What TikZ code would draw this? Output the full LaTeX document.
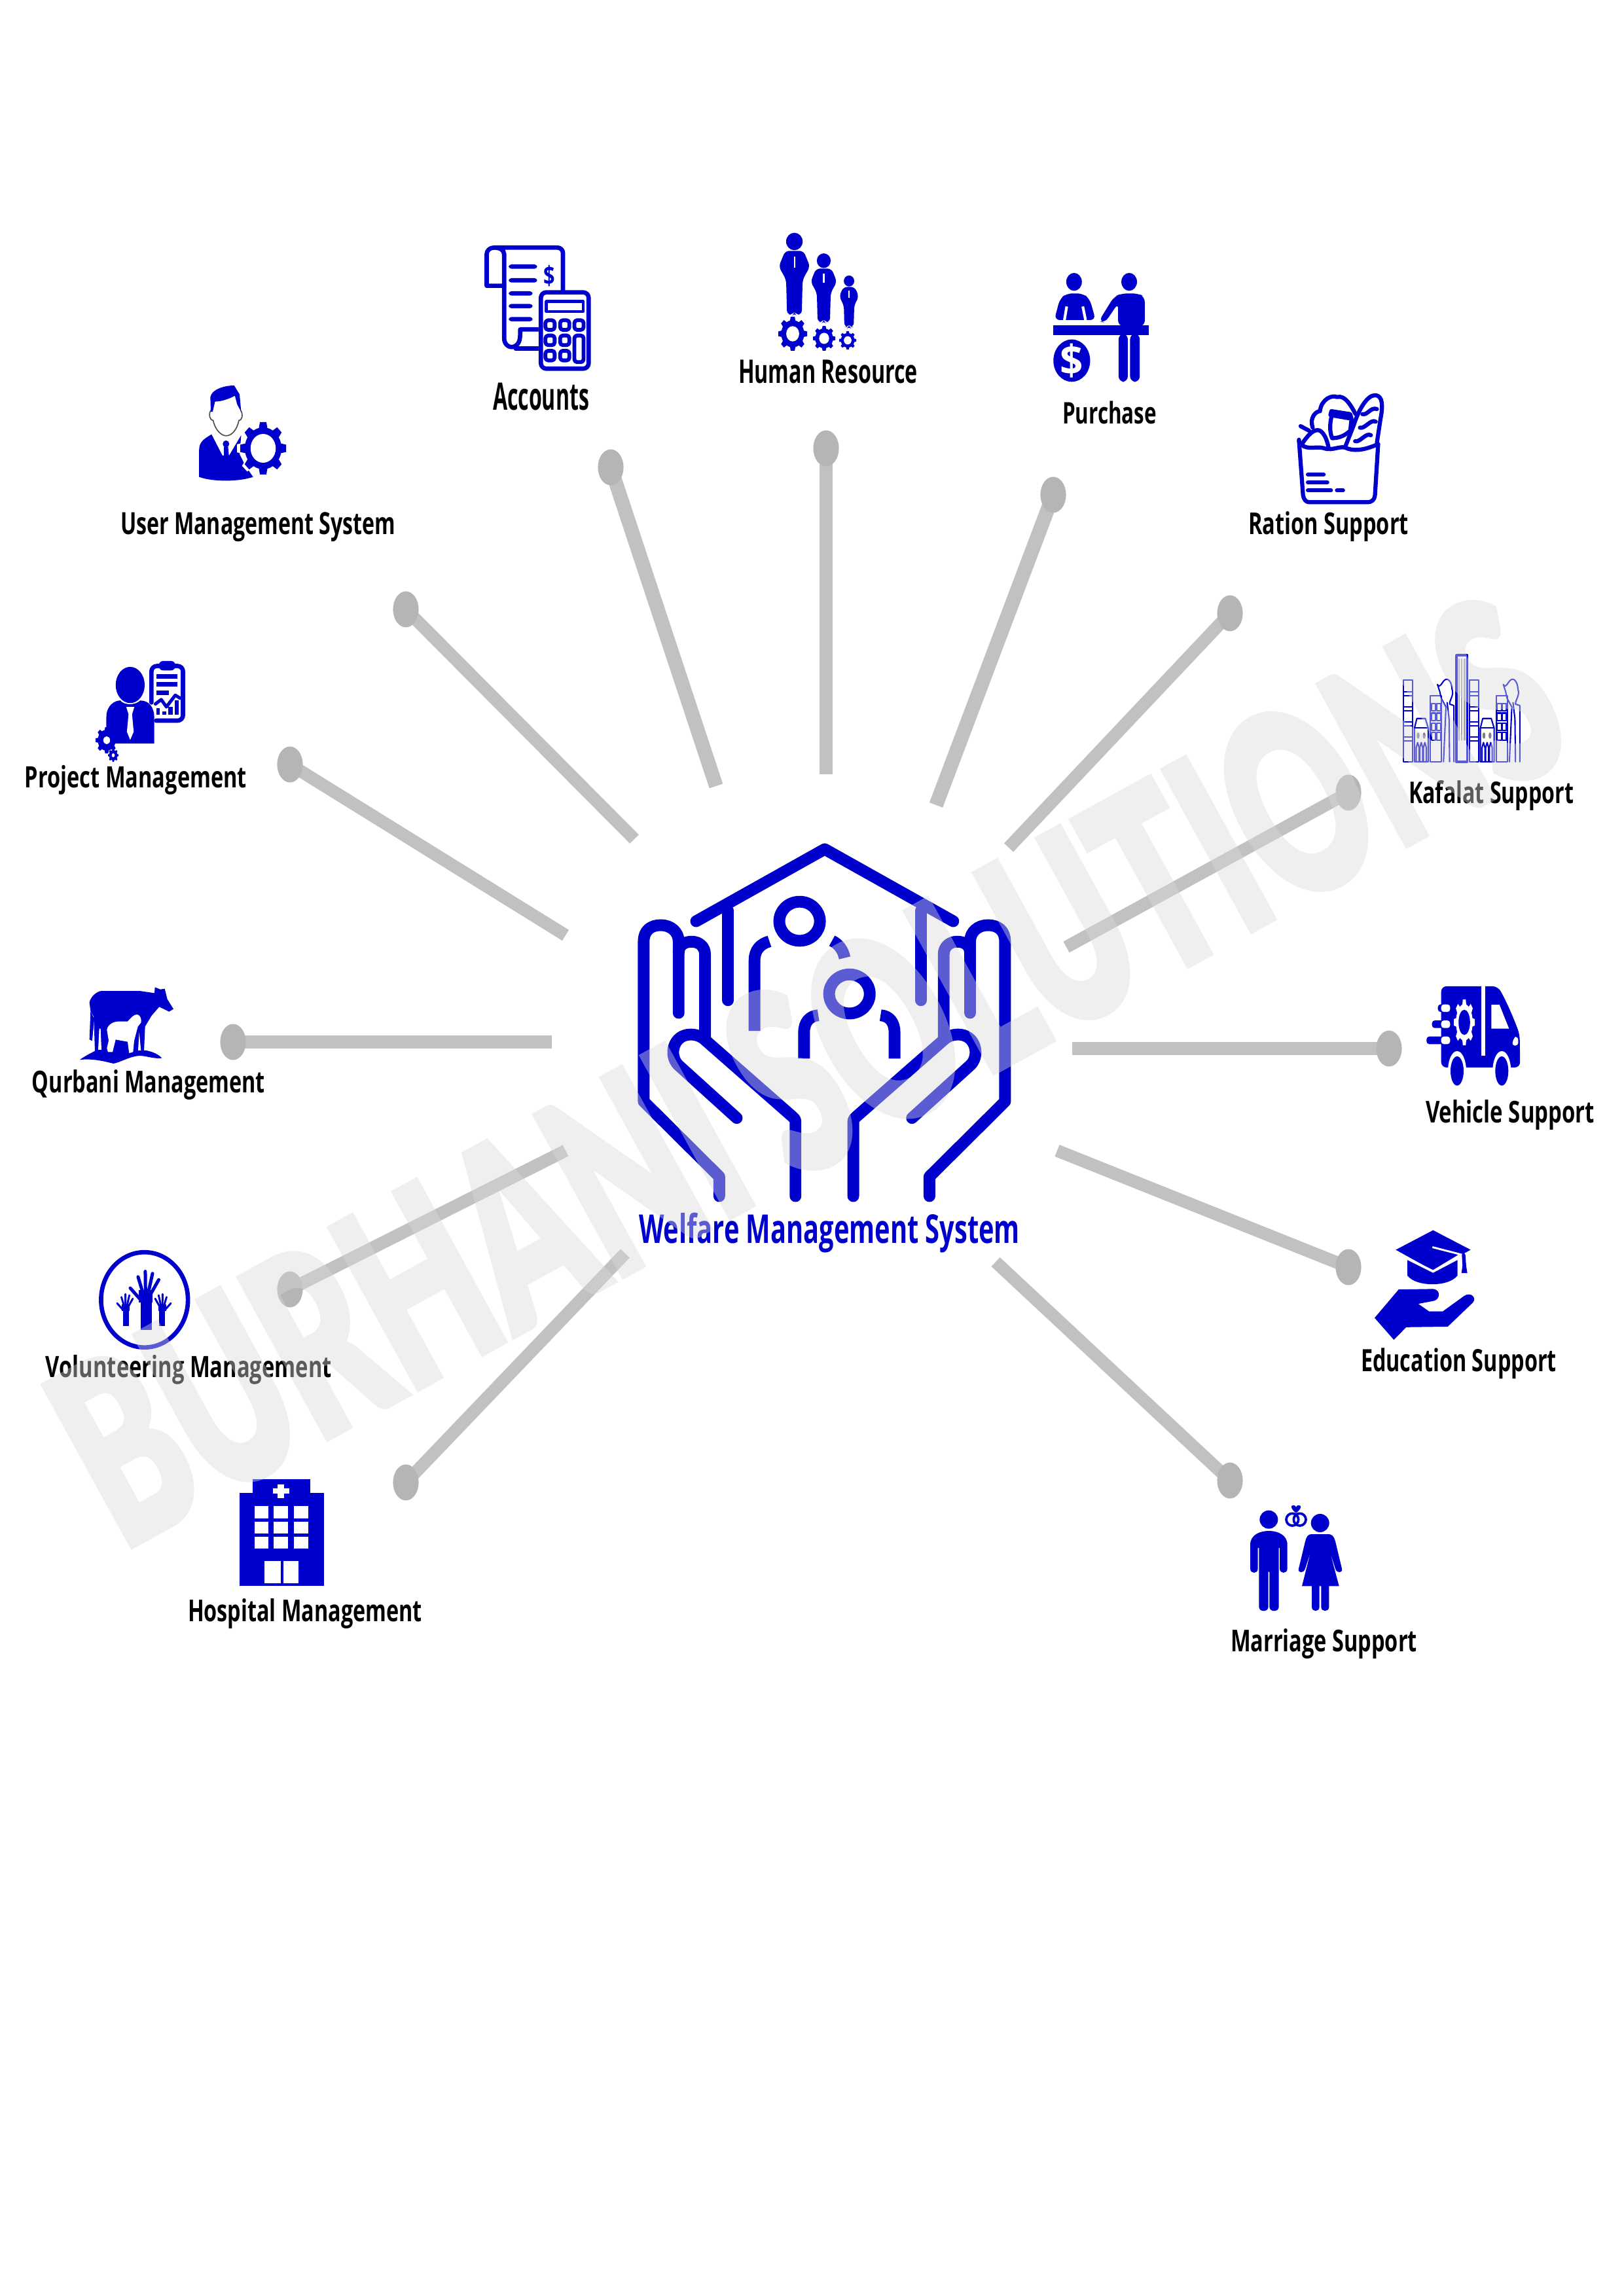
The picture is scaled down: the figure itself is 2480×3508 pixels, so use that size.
\documentclass[tikz,border=0pt]{standalone}
\usepackage{fontspec}
\usepackage{graphicx}
\usetikzlibrary{shapes.geometric}
\setmainfont{Open Sans}
\newfontfamily\wmfont[FakeBold=2.2]{Lato Black}
\definecolor{iconblue}{HTML}{0000CC}
\definecolor{spokegrey}{HTML}{C1C1C1}
\definecolor{dotgrey}{HTML}{B5B5B5}
\definecolor{wmgrey}{HTML}{DBDBDB}
\tikzset{
  zm/.style n args={4}{shift={(#1,#2)},xscale=#3,yscale=#4},
  logostroke/.style={draw=iconblue,line width=4.3pt,line cap=round,line join=round},
  icostroke/.style={draw=iconblue,line width=#1,line cap=round,line join=round},
  icostroke/.default=1.7pt,
  blu/.style={fill=iconblue},
  wht/.style={fill=white},
  spoke/.style={draw=spokegrey,line width=#1},
  spoke/.default=4.6pt,
  hub/.style={shape=ellipse,fill=dotgrey,inner sep=0pt,minimum width=9.4pt,minimum height=13.2pt},
  lbl/.style={inner sep=0pt,outer sep=0pt,text=black},
}
\newcommand\lab[7][black]{%
  \pgfmathsetlengthmacro\labW{(#5-#4)*.24}%
  \pgfmathsetlengthmacro\labH{(#7-#6)*.24}%
  \pgfmathsetmacro\labX{(#4+#5)/2}%
  \pgfmathsetmacro\labY{(#6+#7)/2}%
  \node[lbl,text=#1] (#2) at (\labX,\labY) {\resizebox*{\labW}{\labH}{\bfseries #3}};}
% cx cy rx ry fg bg holefraction
\newcommand\gearshape[7]{%
  \begin{scope}[shift={(#1,#2)},xscale=#3,yscale=#4]
    \fill[#5] (0,0) circle (0.8);
    \foreach \a in {0,45,...,315}{\fill[#5,rotate=\a] (-.2,.7) -- (-.14,1) -- (.14,1) -- (.2,.7) -- cycle;}
    \fill[#6] (0,0) circle (#7);
  \end{scope}}
\newcommand\logohand{%
  \draw[logostroke] (410,1280) -- (410,1215) -- (172,965) -- (172,432) .. controls (172,395) and (195,378) .. (226,378) .. controls (257,378) and (282,400) .. (282,432) -- (282,670);
  \draw[logostroke] (282,470) .. controls (282,445) and (300,433) .. (323,433) .. controls (347,433) and (365,450) .. (365,475) -- (365,755);
  \draw[logostroke] (465,1020) -- (280,843) .. controls (250,810) and (265,742) .. (320,742) .. controls (345,742) and (360,755) .. (365,760) -- (640,1015) .. controls (650,1025) .. (650,1040) -- (650,1280);}
\newcommand\raisedhand[1]{%
  \fill[blu] (-24,-20) rectangle (28,10);
  \fill[blu] (-18,0) -- (25,0) -- (25,75) -- (-18,75) -- cycle;
  \draw[icostroke=#1] (-10,-15) -- (-28,-52);
  \draw[icostroke=#1] (1,-15) -- (0,-65);
  \draw[icostroke=#1] (12,-15) -- (28,-60);
  \draw[icostroke=#1] (22,-12) -- (52,-45);
  \draw[icostroke=#1] (-15,5) -- (-58,-25);}
\begin{document}
\begin{tikzpicture}[x=.24pt,y=-.24pt]
\useasboundingbox (0,0) rectangle (2480,3508);
\fill[white] (0,0) rectangle (2480,3508);

% ---------- spokes ----------
\coordinate (e1) at (969,1282);
\coordinate (e2) at (1094,1201);
\coordinate (e3) at (1262,1183);
\coordinate (e4) at (1430,1230);
\coordinate (e5) at (1541,1295);
\coordinate (e6) at (1629,1447);
\coordinate (e7) at (1638,1602);
\coordinate (e8) at (1615,1758);
\coordinate (e9) at (1521,1928);
\coordinate (e10) at (955,1915);
\coordinate (e11) at (864,1758);
\coordinate (e12) at (843,1592);
\coordinate (e13) at (864,1429);
\coordinate (s1) at (620,931);
\coordinate (s2) at (933,714);
\coordinate (s3) at (1262,685);
\coordinate (s4) at (1609,756);
\coordinate (s5) at (1879,937);
\coordinate (s6) at (2060,1211);
\coordinate (s7) at (2122,1602);
\coordinate (s8) at (2060,1936);
\coordinate (s9) at (1879,2262);
\coordinate (s10) at (620,2265);
\coordinate (s11) at (443,1970);
\coordinate (s12) at (356,1592);
\coordinate (s13) at (443,1168);
\foreach \i in {1,3,5,6,7,8,9,10,11,12,13}{\draw[spoke] (e\i) -- (s\i);}
\foreach \i in {2,4}{\draw[spoke=5.2pt] (e\i) -- (s\i);}
\foreach \i in {1,...,13}{\node[hub] (d\i) at (s\i) {};}

% ---------- centre logo ----------
\begin{scope}[zm={900}{1240}{.485}{.459}]
  \draw[logostroke] (337,365) -- (742,125) -- (1147,365);
  \draw[logostroke] (438,330) -- (438,628);
  \draw[logostroke] (1045,330) -- (1045,628);
  \draw[logostroke] (663,365) circle [x radius=64,y radius=65];
  \draw[logostroke] (820,607) circle [x radius=64,y radius=65];
  \draw[logostroke,line cap=butt] (568,432) .. controls (540,440) and (521,460) .. (521,495) -- (521,730);
  \draw[logostroke,line cap=butt] (805,487) .. controls (800,460) and (785,440) .. (765,430);
  \draw[logostroke,line cap=butt] (722,678) .. controls (695,680) and (677,700) .. (677,735) -- (677,822);
  \draw[logostroke,line cap=butt] (918,678) .. controls (945,680) and (962,700) .. (962,735) -- (962,822);
  \logohand
  \begin{scope}[shift={(1482,0)},xscale=-1]\logohand\end{scope}
\end{scope}
\lab[iconblue]{title}{Welfare Management System}{976}{1558}{1853}{1914}

% ---------- accounts ----------
\begin{scope}[zm={700}{320}{.7016}{.3333}]
  \draw[icostroke=1.6pt] (100,205) .. controls (100,185) and (90,175) .. (78,175) -- (215,175) .. controls (225,175) and (228,190) .. (228,200) -- (228,375);
  \draw[icostroke=1.6pt] (78,175) .. controls (68,175) and (62,190) .. (62,205) -- (62,350) -- (100,350);
  \draw[icostroke=1.6pt] (100,205) -- (100,590) .. controls (100,625) and (115,640) .. (125,625) .. controls (135,610) and (135,590) .. (135,550) -- (175,550);
  \draw[icostroke=1.6pt] (125,638) -- (175,638);
  \foreach \yy/\xe in {262/172,325/172,385/162,443/162,503/162}{\fill[blu,rounded corners=1pt] (110,\yy-10) rectangle (\xe,\yy+10);}
  \node[text=iconblue,inner sep=0pt] (acdollar) at (198,305) {\resizebox*{4.2pt}{7.8pt}{\bfseries\$}};
  \fill[white,rounded corners=2pt] (175,375) rectangle (288,735);
  \draw[icostroke=1.6pt,rounded corners=2pt] (180,380) rectangle (284,730);
  \draw[icostroke=1.1pt] (192,422) rectangle (272,468);
  \foreach \cx in {200,232}{\foreach \cy in {530,600,670}{
     \draw[icostroke=1.4pt,rounded corners=1pt] (\cx-10,\cy-22) rectangle (\cx+10,\cy+22);}}
  \draw[icostroke=1.4pt,rounded corners=1pt] (253,508) rectangle (273,552);
  \draw[icostroke=1.4pt,rounded corners=1pt] (253,578) rectangle (273,700);
\end{scope}
\lab{accounts}{Accounts}{753}{900}{585}{627}

% ---------- human resource ----------
\begin{scope}[zm={700}{320}{.7016}{.3333}]
  \newcommand\hrfig[3]{%
   \begin{scope}[shift={(#1,#2)},scale=#3]
    \fill[blu] (0,0) circle [x radius=18,y radius=40];
    \fill[blu,rounded corners=1.5pt] (-20,43) -- (20,43) -- (34,115) -- (18,175) -- (16,335) -- (3,335) -- (0,325) -- (-3,335) -- (-16,335) -- (-18,175) -- (-34,115) -- cycle;
    \draw[white,line width=.5pt] (0,70) -- (0,120);
   \end{scope}}
  \hrfig{732}{147}{1}
  \hrfig{796}{235}{.84}
  \hrfig{851}{328}{.63}
\end{scope}
\gearshape{1211}{510}{22}{26}{iconblue}{white}{.45}
\gearshape{1259}{517}{17}{19}{iconblue}{white}{.45}
\gearshape{1295}{520}{13}{14}{iconblue}{white}{.45}
\lab{hr}{Human Resource}{1128}{1402}{550}{586}

% ---------- purchase ----------
\begin{scope}[zm={700}{320}{.7016}{.3333}]
  \fill[blu] (1341,332) circle [x radius=17,y radius=41];
  \fill[blu] (1461,332) circle [x radius=17,y radius=41];
  \fill[blu,rounded corners=2pt] (1298,507) -- (1310,410) -- (1325,385) -- (1360,385) -- (1375,410) -- (1388,507) -- cycle;
  \draw[white,line width=1pt] (1320,507) -- (1325,445);
  \draw[white,line width=1pt] (1366,507) -- (1360,445);
  \fill[blu,rounded corners=2pt] (1395,512) -- (1428,400) -- (1445,385) -- (1480,385) -- (1495,400) -- (1495,535) -- (1437,535) -- (1437,430) -- (1408,520) -- cycle;
  \fill[blu] (1296,530) rectangle (1504,577);
  \fill[blu,rounded corners=2pt] (1438,570) rectangle (1458,790);
  \fill[blu,rounded corners=2pt] (1463,570) rectangle (1484,790);
  \fill[blu] (1336,693) circle [x radius=40,y radius=97];
  \node[text=white,inner sep=0pt] (pdollar) at (1336,693) {\resizebox*{8.5pt}{12.5pt}{\bfseries\$}};
\end{scope}
\lab{purchase}{Purchase}{1623}{1767}{613}{648}

% ---------- user management ----------
\begin{scope}[zm={100}{560}{.357}{.4464}]
  \draw[black!70,line width=.4pt,fill=white] (622,150) .. controls (610,165) and (620,185) .. (632,185) .. controls (640,215) and (665,237) .. (688,237) .. controls (712,237) and (735,215) .. (742,185) .. controls (755,185) and (762,165) .. (750,150);
  \fill[blu] (622,155) -- (620,105) .. controls (625,78) and (680,65) .. (722,65) -- (745,95) -- (752,155) -- (735,130) -- (725,100) .. controls (690,115) and (660,120) .. (640,120) -- (630,155) -- cycle;
  \fill[blu] (572,285) .. controls (572,255) and (600,245) .. (625,232) -- (672,305) -- (700,305) -- (752,235) -- (745,300) -- (770,340) -- (803,378) .. controls (740,395) and (630,395) .. (572,378) -- cycle;
  \fill[blu] (687,265) circle [x radius=14,y radius=12];
  \fill[blu] (678,275) -- (696,275) -- (700,310) -- (678,310) -- cycle;
\end{scope}
\gearshape{402}{685}{40}{44}{white}{white}{.5}
\gearshape{402}{685}{35}{40}{iconblue}{white}{.55}
\lab{user}{User Management System}{184}{604}{783}{828}

% ---------- project ----------
\begin{scope}[zm={100}{560}{.357}{.4464}]
  \draw[icostroke=1.6pt,rounded corners=2pt] (368,1150) -- (368,1025) -- (503,1025) -- (503,1212) -- (388,1212);
  \fill[blu,rounded corners=1.5pt] (400,1008) rectangle (470,1040);
  \fill[blu] (390,1052) rectangle (480,1068);
  \fill[blu] (390,1080) rectangle (480,1095);
  \fill[blu] (390,1108) rectangle (442,1125);
  \draw[icostroke=1.2pt] (385,1155) -- (410,1140) -- (432,1165) -- (470,1125) -- (490,1135);
  \fill[blu] (388,1170) rectangle (403,1192);
  \fill[blu] (415,1180) rectangle (430,1192);
  \fill[blu] (440,1165) rectangle (458,1192);
  \fill[blu] (467,1143) rectangle (485,1192);
  \fill[blu] (277,1090) circle [x radius=62,y radius=62];
  \fill[blu] (175,1290) -- (175,1200) .. controls (175,1160) and (210,1143) .. (235,1143) .. controls (250,1160) and (300,1160) .. (320,1143) .. controls (360,1143) and (380,1170) .. (380,1200) -- (380,1290) -- cycle;
  \fill[wht] (260,1165) -- (295,1165) -- (285,1190) -- (292,1250) -- (277,1278) -- (263,1250) -- (270,1190) -- cycle;
\end{scope}
\gearshape{163}{1131}{17}{20}{iconblue}{white}{.3}
\gearshape{173}{1154}{8}{10}{iconblue}{white}{.3}
\lab{project}{Project Management}{38}{377}{1169}{1214}

% ---------- ration ----------
\begin{scope}[zm={1900}{580}{.37}{.459}]
  \begin{scope}[icostroke=1.5pt]
  \draw (285,160) .. controls (270,125) and (300,105) .. (315,105) .. controls (320,65) and (365,50) .. (385,58) .. controls (420,50) and (445,90) .. (462,115);
  \draw (358,118) -- (362,105) -- (440,115) -- (445,130) -- (358,118);
  \draw (362,125) .. controls (355,150) and (355,175) .. (365,195) .. controls (395,195) and (420,185) .. (440,170) -- (445,132);
  \draw (420,222) -- (455,150) .. controls (475,100) and (510,50) .. (545,52) .. controls (575,55) and (575,90) .. (565,130) -- (550,210);
  \draw (490,115) .. controls (510,120) and (525,90) .. (550,98);
  \draw (480,160) .. controls (500,165) and (525,130) .. (545,140);
  \draw (460,205) .. controls (480,210) and (505,175) .. (525,185);
  \draw (235,155) -- (270,170);
  \draw (240,215) .. controls (260,190) and (290,160) .. (315,170) .. controls (335,180) and (345,205) .. (350,225);
  \draw (228,200) -- (245,385) .. controls (248,400) and (258,408) .. (270,408) -- (510,408) .. controls (530,408) and (540,400) .. (542,385) -- (555,215);
  \draw (228,205) .. controls (250,240) and (295,220) .. (330,228) .. controls (370,240) and (400,215) .. (430,230) .. controls (470,240) and (510,230) .. (555,215);
  \draw (265,316) -- (330,316);
  \draw (265,342) -- (345,342);
  \draw (265,369) -- (360,369);
  \draw (385,369) -- (410,369);
  \end{scope}
\end{scope}
\lab{ration}{Ration Support}{1907}{2152}{782}{828}

% ---------- kafalat ----------
\begin{scope}[zm={1900}{580}{.37}{.459}]
  \begin{scope}[icostroke=.5pt]
  \draw[line width=.8pt] (878,1272) -- (878,917) -- (923,917) -- (923,1272) -- cycle;
  \foreach \xx in {888,900,912}{\draw[black!35,line width=.5pt] (\xx,930) -- (\xx,1200);}
  \foreach \ox in {0,272}{
   \begin{scope}[shift={(\ox,0)}]
    \draw (660,1272) rectangle (698,1000);
    \foreach \yy in {1040,1090,1140,1190}{\draw (660,\yy) rectangle (698,\yy+12);}
    \draw (705,1272) -- (705,1160) -- (715,1128) -- (750,1128) -- (762,1160) -- (762,1272) -- cycle;
    \draw (705,1160) -- (762,1160);
    \draw[black!50] (720,1185) circle [x radius=3,y radius=8];
    \draw[black!50] (745,1185) circle [x radius=3,y radius=8];
    \foreach \xx in {718,733,748}{\draw (\xx-6,1272) -- (\xx-6,1225) -- (\xx,1208) -- (\xx+6,1225) -- (\xx+6,1272);}
    \draw (770,1272) rectangle (817,1052);
    \foreach \yy in {1078,1110,1143,1175}{
      \draw (775,\yy) rectangle (792,\yy+25);
      \draw (796,\yy) rectangle (813,\yy+25);}
    \draw (800,1015) .. controls (810,1030) and (820,1005) .. (830,1000) .. controls (845,990) and (860,1010) .. (860,1030) .. controls (870,1050) and (850,1065) .. (850,1080) -- (868,1085) -- (868,1272);
    \draw (850,1272) -- (848,1130) -- (840,1075);
    \draw (825,1272) -- (835,1090) -- (815,1060) -- (810,1040) -- (800,1015);
   \end{scope}}
  \end{scope}
\end{scope}
\lab{kafalat}{Kafalat Support}{2152}{2404}{1192}{1238}

% ---------- vehicle ----------
\begin{scope}[zm={2000}{1460}{.3333}{.4464}]
  \fill[blu,rounded corners=2pt] (605,105) -- (865,105) .. controls (910,165) and (940,220) .. (965,270) -- (967,383) -- (605,383) -- cycle;
  \fill[wht] (790,100) rectangle (806,343);
  \fill[wht] (835,168) -- (872,168) -- (916,250) -- (835,250) -- cycle;
  \fill[wht,rounded corners=1pt] (930,308) .. controls (935,285) and (945,278) .. (958,278) -- (958,308) -- cycle;
  \foreach \wx in {678,883}{
    \fill[wht] (\wx,395) circle [x radius=42,y radius=68];
    \fill[blu] (\wx,395) circle [x radius=30,y radius=50];}
  \foreach \yy/\xs in {180/590,235/563,290/538}{
    \fill[blu,rounded corners=1pt] (\xs,\yy-13) rectangle (620,\yy+13);
    \fill[wht,rounded corners=1pt] (605,\yy-13) rectangle (646,\yy+13);}
\end{scope}
\gearshape{2237}{1562}{16}{35}{white}{iconblue}{.55}
\lab{vehicle}{Vehicle Support}{2178}{2436}{1681}{1727}

% ---------- education ----------
\begin{scope}[zm={2000}{1460}{.3333}{.4464}]
  \fill[blu] (397,1007) -- (568,940) -- (740,1007) -- (568,1078) -- cycle;
  \draw[white,line width=.7pt] (565,998) -- (695,1023) -- (568,1080) -- (450,1036);
  \fill[blu] (450,1042) -- (568,1086) -- (680,1042) -- (680,1095) .. controls (640,1135) and (490,1135) .. (450,1095) -- cycle;
  \draw[icostroke=1.3pt] (708,1025) -- (712,1070);
  \fill[blu] (698,1087) -- (725,1087) -- (716,1045) -- (706,1045) -- cycle;
  \fill[blu] (300,1240) -- (410,1143) -- (570,1141) .. controls (605,1145) and (600,1178) .. (570,1182) -- (500,1192) -- (550,1218) -- (612,1218) -- (710,1165) .. controls (740,1150) and (770,1170) .. (750,1188) -- (635,1270) -- (445,1272) -- (388,1315) -- cycle;
\end{scope}
\lab{education}{Education Support}{2079}{2378}{2060}{2107}

% ---------- marriage ----------
\begin{scope}[zm={1850}{2280}{.3333}{.3333}]
  \fill[blu] (265,125) circle (42);
  \fill[blu] (500,141) circle (42);
  \fill[blu] (180,350) -- (180,240) .. controls (180,195) and (225,177) .. (265,177) .. controls (305,177) and (350,195) .. (350,240) -- (350,350) .. controls (350,375) and (315,375) .. (315,350) -- (315,255) -- (311,255) -- (311,525) .. controls (311,550) and (268,550) .. (268,525) -- (268,365) -- (263,365) -- (263,525) .. controls (263,550) and (220,550) .. (220,525) -- (220,255) -- (215,255) -- (215,350) .. controls (215,375) and (180,375) .. (180,350) -- cycle;
  \fill[blu] (402,350) -- (432,225) .. controls (437,205) and (445,192) .. (460,192) -- (540,192) .. controls (555,192) and (565,205) .. (570,225) -- (600,350) .. controls (605,372) and (575,372) .. (570,350) -- (545,272) -- (587,430) -- (541,430) -- (541,525) .. controls (541,550) and (505,550) .. (505,525) -- (505,430) -- (497,430) -- (497,525) .. controls (497,550) and (462,550) .. (462,525) -- (462,430) -- (417,430) -- (457,272) -- (432,350) .. controls (425,372) and (397,372) .. (402,350) -- cycle;
  \draw[icostroke=.9pt] (373,125) circle (28);
  \draw[icostroke=.9pt] (407,125) circle (28);
  \fill[blu] (390,95) .. controls (370,80) and (360,60) .. (378,60) .. controls (385,60) .. (390,68) .. controls (395,60) .. (402,60) .. controls (420,60) and (410,80) .. (390,95) -- cycle;
\end{scope}
\lab{marriage}{Marriage Support}{1880}{2165}{2489}{2535}

% ---------- qurbani ----------
\begin{scope}[zm={110}{1490}{.3333}{.3333}]
  \fill[blu] (80,125) .. controls (85,100) and (110,75) .. (135,72) -- (310,72) -- (378,82) -- (380,55) -- (405,65) -- (425,62) -- (437,110) -- (465,155) -- (445,167) -- (400,145) -- (365,185) -- (335,235) -- (330,350) -- (105,350) -- (100,190) -- (82,295) -- (92,300) -- (98,240) -- (100,190) -- (85,165) -- cycle;
  \fill[blu] (85,165) -- (80,295) -- (92,300) -- (102,200) -- cycle;
  \fill[blu] (35,388) .. controls (60,370) and (90,355) .. (110,345) -- (340,345) .. controls (370,350) and (400,365) .. (412,380) .. controls (370,385) and (330,365) .. (300,370) .. controls (260,375) and (220,400) .. (190,405) .. controls (150,395) and (90,380) .. (35,388) -- cycle;
  \fill[wht] (120,342) -- (125,245) -- (131,245) -- (135,342) -- cycle;
  \fill[wht] (303,345) -- (308,262) -- (316,345) -- cycle;
  \fill[wht] (160,250) .. controls (165,225) and (190,212) .. (215,212) -- (255,212) .. controls (270,195) and (285,178) .. (300,180) .. controls (315,185) and (320,205) .. (316,218) -- (302,235) -- (285,300) -- (280,352) -- (262,357) -- (255,305) -- (200,295) -- (186,352) -- (165,352) -- (160,335) -- (168,300) -- cycle;
\end{scope}
\lab{qurbani}{Qurbani Management}{49}{405}{1635}{1681}

% ---------- volunteering ----------
\begin{scope}[zm={60}{1480}{.395}{.638}]
  \draw[icostroke=1.6pt] (407,793) circle [x radius=168,y radius=114];
  \begin{scope}[shift={(410,790)}]\raisedhand{1.2pt}\end{scope}
  \begin{scope}[shift={(333,815)},xscale=.55,yscale=.55]\raisedhand{.7pt}\end{scope}
  \begin{scope}[shift={(477,815)},xscale=-.55,yscale=.55]\raisedhand{.7pt}\end{scope}
\end{scope}
\lab{volunteering}{Volunteering Management}{70}{507}{2070}{2115}

% ---------- hospital ----------
\begin{scope}[zm={60}{1480}{.395}{.638}]
  \fill[blu] (775,1255) rectangle (1100,1478);
  \fill[blu] (826,1222) rectangle (1048,1256);
  \fill[wht] (903,1245) rectangle (968,1257);
  \fill[wht] (922,1235) rectangle (948,1268);
  \foreach \ca/\cb in {832/887,907/963,985/1040}{
    \foreach \ra/\rb in {1287/1316,1325/1352,1361/1388}{
      \fill[wht] (\ca,\ra) rectangle (\cb,\rb);}}
  \fill[wht] (872,1418) rectangle (935,1472);
  \fill[wht] (945,1418) rectangle (1003,1472);
\end{scope}
\lab{hospital}{Hospital Management}{287}{645}{2443}{2489}

% ---------- watermark ----------
\begin{scope}[transparency group,opacity=.42]
\node[inner sep=0pt,rotate=28.8,text=wmgrey] (watermark) at (1232,1636)
  {\resizebox{610pt}{68pt}{\wmfont BURHANI SOLUTIONS}};
\end{scope}
\end{tikzpicture}
\end{document}
